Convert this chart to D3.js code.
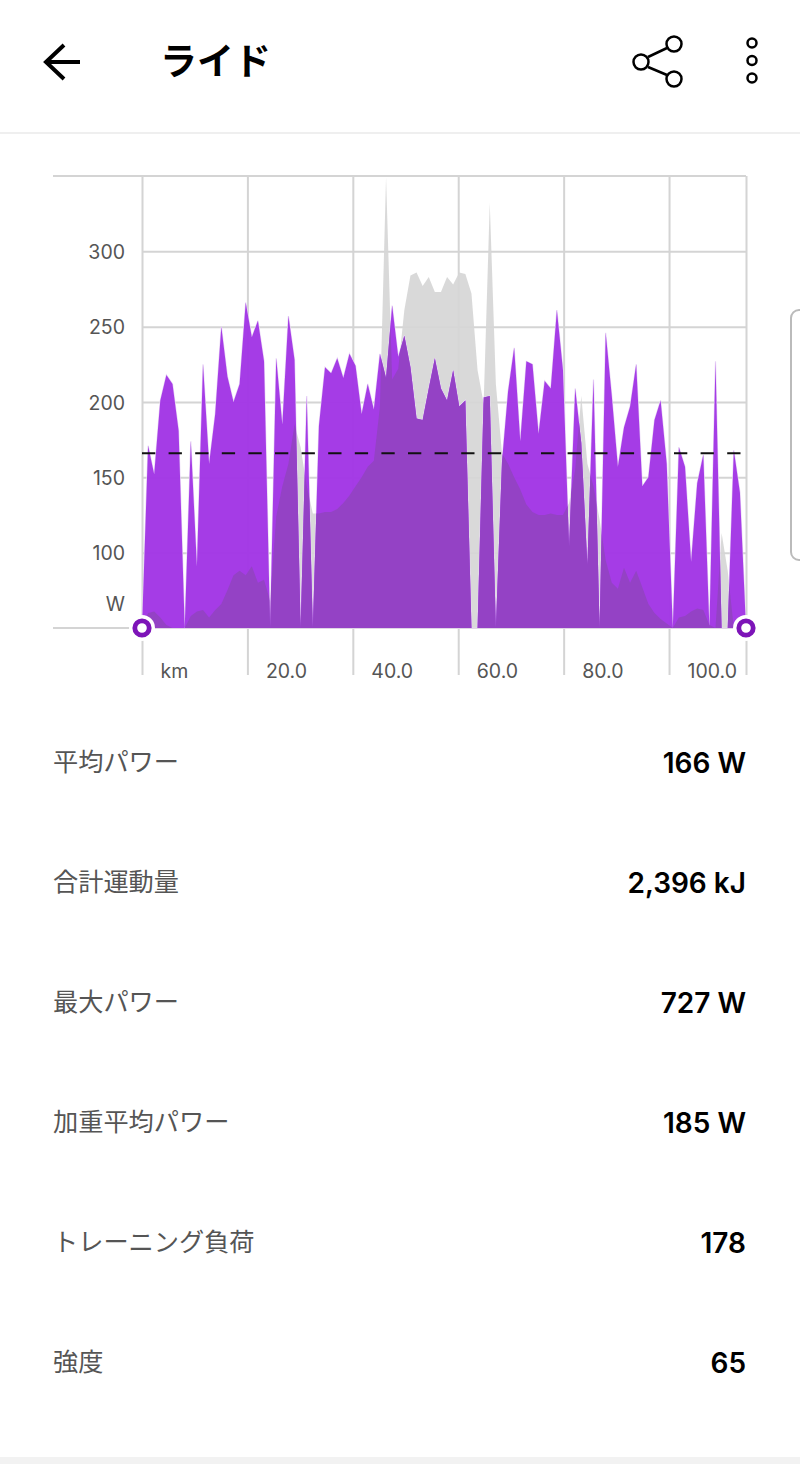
<!DOCTYPE html>
<html>
<head>
<meta charset="utf-8">
<script src="https://d3js.org/d3.v7.min.js"></script>
<style>
  html, body { margin: 0; padding: 0; background: #fff; }
  svg { display: block; font-family: Inter, "Noto Sans CJK JP", sans-serif; }
  .axis path { display: none; }
  .axis line { stroke: #d4d4d4; stroke-width: 2px; }
  .axis text { fill: #555; font-size: 19.5px; font-family: Inter, sans-serif; }
</style>
</head>
<body>
<svg id="chart" width="800" height="1464"></svg>
<script>
// power per sample, watts (purple area)
const powerValues = [
  50, 171, 152, 201, 218, 212, 181, 50, 174, 91,
  225, 159, 192, 250, 217, 200, 212, 266, 243, 254,
  227, 50, 229, 185, 257, 228, 50, 204, 50, 184,
  223, 219, 229, 216, 232, 224, 192, 212, 195, 232,
  216, 264, 230, 244, 223, 189, 188, 209, 229, 209,
  201, 221, 197, 201, 50, 50, 203, 204, 50, 160,
  207, 236, 174, 227, 225, 179, 214, 209, 261, 221,
  104, 209, 173, 92, 215, 50, 246, 204, 157, 183,
  197, 225, 144, 150, 188, 201, 159, 50, 170, 157,
  94, 146, 165, 50, 227, 50, 50, 168, 140, 50
];
// second series drawn behind the power (grey area)
const compareValues = [
  50, 60, 61, 57, 52, 50, 50, 50, 58, 61,
  62, 57, 62, 66, 75, 85, 88, 85, 91, 80,
  82, 68, 124, 144, 159, 185, 170, 144, 126, 126,
  127, 127, 129, 133, 138, 144, 150, 157, 161, 197,
  349, 215, 222, 261, 284, 286, 277, 283, 273, 273,
  283, 278, 286, 285, 272, 221, 199, 332, 212, 166,
  159, 150, 142, 132, 127, 125, 125, 126, 125, 125,
  133, 155, 204, 159, 144, 122, 95, 80, 76, 90,
  80, 88, 77, 66, 60, 56, 53, 50, 57, 58,
  61, 63, 62, 52, 50, 113, 88, 50, 50, 50
];
const averagePower = 166;
const sampleKm = 1.1576;
const kmTicks = [0, 20, 40, 60, 80, 100, 114.6];
const kmLabels = ['km', '20.0', '40.0', '60.0', '80.0', '100.0', ''];
const wattTicks = [100, 150, 200, 250, 300];
const statNames = ['平均パワー', '合計運動量', '最大パワー', '加重平均パワー', 'トレーニング負荷', '強度'];
const statValues = ['166 W', '2,396 kJ', '727 W', '185 W', '178', '65'];

const svg = d3.select('#chart');
const x = d3.scaleLinear().domain([0, 114.6]).range([142, 746]);
const y = d3.scaleLinear().domain([50, 350]).range([628, 176]);

// app bar
svg.append('line').attr('x1', 0).attr('x2', 800).attr('y1', 133).attr('y2', 133)
  .attr('stroke', '#efefef').attr('stroke-width', 2);
svg.append('path').attr('d', 'M80 62H47M64 45L46 62L64 79')
  .attr('fill', 'none').attr('stroke', '#000').attr('stroke-width', 4);
svg.append('text').attr('x', 160).attr('y', 75).text('ライド')
  .attr('font-size', 37).attr('font-weight', 700)
  .attr('font-family', '"Noto Sans CJK JP"');
const icons = svg.append('g').attr('fill', 'none').attr('stroke', '#000').attr('stroke-width', 2.5);
icons.append('path').attr('d', 'M648 57L667 48M648 67L667 75');
[[641, 62], [674, 44], [674, 79]].forEach(c => {
  icons.append('circle').attr('cx', c[0]).attr('cy', c[1]).attr('r', 7.5);
});
[43, 60.5, 78].forEach(cy => {
  icons.append('circle').attr('cx', 752).attr('cy', cy).attr('r', 4.5);
});

// grid
const yAxis = svg.append('g').attr('class', 'axis')
  .attr('transform', 'translate(142,0)')
  .call(d3.axisLeft(y).tickValues(wattTicks).tickSize(-604).tickPadding(17).tickFormat(d3.format('d')));
yAxis.selectAll('text').attr('dy', '0.37em');
const xAxis = svg.append('g').attr('class', 'axis')
  .attr('transform', 'translate(0,176)')
  .call(d3.axisBottom(x).tickValues(kmTicks).tickSize(499).tickFormat((d, i) => kmLabels[i]));
xAxis.selectAll('text')
  .attr('text-anchor', 'start').attr('dx', 18).attr('y', 488);
svg.append('line').attr('x1', 53).attr('x2', 746).attr('y1', y(350)).attr('y2', y(350))
  .attr('stroke', '#d4d4d4').attr('stroke-width', 2);
svg.append('line').attr('x1', 53).attr('x2', 746).attr('y1', y(50)).attr('y2', y(50))
  .attr('stroke', '#d4d4d4').attr('stroke-width', 2);
svg.append('text').attr('x', 125).attr('y', 611).attr('text-anchor', 'end')
  .attr('fill', '#555').attr('font-size', 19.5).text('W');

// areas: grey behind, purple on top, and a darker purple where they overlap
const area = d3.area()
  .x((d, i) => x(i * sampleKm))
  .y0(y(50))
  .y1(d => y(d));
svg.append('clipPath').attr('id', 'powerClip')
  .append('path').datum(powerValues).attr('d', area);
svg.append('path').datum(compareValues).attr('d', area)
  .attr('fill', '#d6d6d6').attr('fill-opacity', 0.92);
svg.append('path').datum(powerValues).attr('d', area)
  .attr('fill', '#a236e5').attr('fill-opacity', 0.97)
  .attr('stroke', '#e9d6f6').attr('stroke-width', 1.2).style('paint-order', 'stroke');
svg.append('path').datum(compareValues).attr('d', area)
  .attr('clip-path', 'url(#powerClip)')
  .attr('fill', '#9343c4').attr('fill-opacity', 0.96);

// average line
svg.append('line').attr('x1', x(0)).attr('x2', x(114.6))
  .attr('y1', y(averagePower)).attr('y2', y(averagePower))
  .attr('stroke', '#111').attr('stroke-width', 2).attr('stroke-dasharray', '13.3 13.3');

// end handles
[0, 114.6].forEach(km => {
  svg.append('circle').attr('cx', x(km)).attr('cy', y(50)).attr('r', 13).attr('fill', '#fff');
  svg.append('circle').attr('cx', x(km)).attr('cy', y(50)).attr('r', 7.2)
    .attr('fill', '#fff').attr('stroke', '#7d14b8').attr('stroke-width', 4.8);
});

// scrollbar tab on right edge
svg.append('rect').attr('x', 791).attr('y', 310).attr('width', 30).attr('height', 250).attr('rx', 8)
  .attr('fill', '#fff').attr('stroke', '#bbb').attr('stroke-width', 2);

// stat rows
const rowY = d3.scalePoint().domain(d3.range(statNames.length)).range([762, 1362]);
const rows = svg.selectAll('.row').data(statNames).join('g').attr('class', 'row')
  .attr('transform', (d, i) => `translate(0,${rowY(i)})`);
rows.append('text').attr('x', 53).attr('y', 9).attr('fill', '#555').attr('font-size', 25.2)
  .attr('font-family', '"Noto Sans CJK JP"').text(d => d);
rows.append('text').attr('x', 746).attr('y', 11).attr('text-anchor', 'end')
  .attr('fill', '#000').attr('font-size', 28).attr('font-weight', 600)
  .text((d, i) => statValues[i]);

svg.append('rect').attr('x', 0).attr('y', 1457).attr('width', 800).attr('height', 7).attr('fill', '#f2f2f2');
</script>
</body>
</html>
